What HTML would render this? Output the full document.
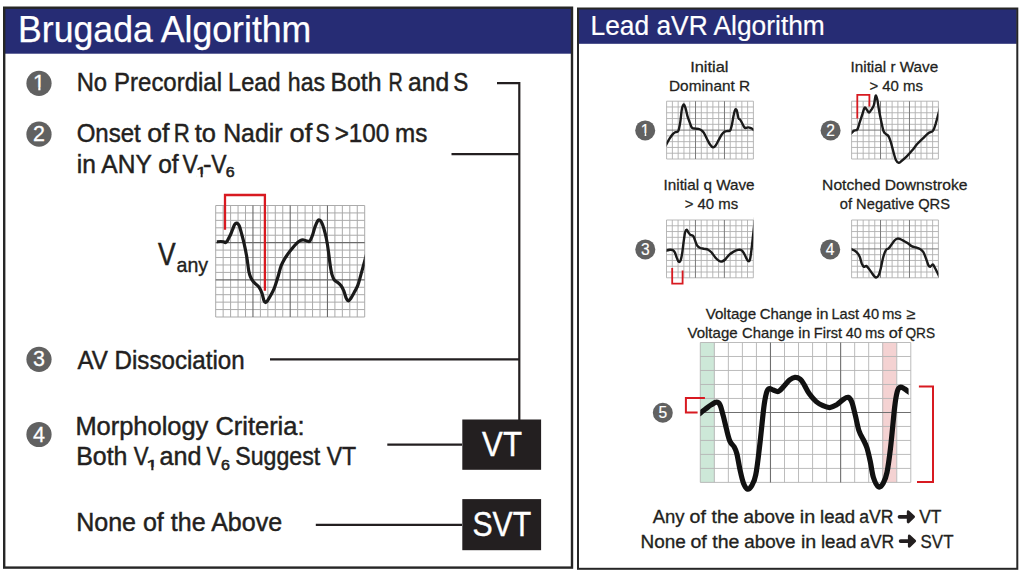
<!DOCTYPE html>
<html><head><meta charset="utf-8"><title>Brugada and Lead aVR Algorithms</title>
<style>
html,body{margin:0;padding:0;background:#fff;width:1024px;height:573px;overflow:hidden}
svg{display:block}
text{font-family:"Liberation Sans",Arial,sans-serif}
</style></head><body>
<svg width="1024" height="573" viewBox="0 0 1024 573">
<rect x="4.5" y="8" width="567" height="45.7" fill="#262c74"/>
<rect x="4.2" y="7.7" width="567.8" height="559.9" fill="none" stroke="#262626" stroke-width="2.4"/>
<rect x="578.5" y="9" width="438.3" height="34.8" fill="#262c74"/>
<rect x="578" y="8.5" width="439.3" height="560.3" fill="none" stroke="#262626" stroke-width="2"/>
<text x="18.1" y="42.0" font-size="36.2" fill="#fff" textLength="293.2" lengthAdjust="spacingAndGlyphs" stroke="#fff" stroke-width="0.25">Brugada Algorithm</text>
<text x="590.5" y="35.2" font-size="26.9" fill="#fff" textLength="234.3" lengthAdjust="spacingAndGlyphs" stroke="#fff" stroke-width="0.20">Lead aVR Algorithm</text>
<circle cx="39.0" cy="83.3" r="12.6" fill="#616161"/><text x="39.0" y="90.4" font-size="21.5" fill="#fff" stroke="#fff" stroke-width="0.26" text-anchor="middle">1</text><rect x="33.66" y="87.49" width="4.62" height="4.71" fill="#616161"/><rect x="40.48" y="87.49" width="4.65" height="4.71" fill="#616161"/>
<text x="76.7" y="91.0" font-size="25.4" fill="#231f20" textLength="30.4" lengthAdjust="spacingAndGlyphs" stroke="#231f20" stroke-width="0.46">No</text>
<text x="114.1" y="91.0" font-size="25.4" fill="#231f20" textLength="107.9" lengthAdjust="spacingAndGlyphs" stroke="#231f20" stroke-width="0.46">Precordial</text>
<text x="228.1" y="91.0" font-size="25.4" fill="#231f20" textLength="52.5" lengthAdjust="spacingAndGlyphs" stroke="#231f20" stroke-width="0.46">Lead</text>
<text x="287.8" y="91.0" font-size="25.4" fill="#231f20" textLength="37.2" lengthAdjust="spacingAndGlyphs" stroke="#231f20" stroke-width="0.46">has</text>
<text x="330.5" y="91.0" font-size="25.4" fill="#231f20" textLength="51.0" lengthAdjust="spacingAndGlyphs" stroke="#231f20" stroke-width="0.46">Both</text>
<text x="388.4" y="91.0" font-size="25.4" fill="#231f20" textLength="14.2" lengthAdjust="spacingAndGlyphs" stroke="#231f20" stroke-width="0.46">R</text>
<text x="408.0" y="91.0" font-size="25.4" fill="#231f20" textLength="41.1" lengthAdjust="spacingAndGlyphs" stroke="#231f20" stroke-width="0.46">and</text>
<text x="453.2" y="91.0" font-size="25.4" fill="#231f20" textLength="15.0" lengthAdjust="spacingAndGlyphs" stroke="#231f20" stroke-width="0.46">S</text>
<circle cx="39.0" cy="134.2" r="12.6" fill="#616161"/><text x="39.0" y="141.3" font-size="21.5" fill="#fff" stroke="#fff" stroke-width="0.26" text-anchor="middle">2</text>
<text x="76.7" y="141.7" font-size="25.4" fill="#231f20" textLength="64.1" lengthAdjust="spacingAndGlyphs" stroke="#231f20" stroke-width="0.46">Onset</text>
<text x="147.3" y="141.7" font-size="25.4" fill="#231f20" textLength="22.2" lengthAdjust="spacingAndGlyphs" stroke="#231f20" stroke-width="0.46">of</text>
<text x="173.8" y="141.7" font-size="25.4" fill="#231f20" textLength="16.0" lengthAdjust="spacingAndGlyphs" stroke="#231f20" stroke-width="0.46">R</text>
<text x="194.8" y="141.7" font-size="25.4" fill="#231f20" textLength="21.2" lengthAdjust="spacingAndGlyphs" stroke="#231f20" stroke-width="0.46">to</text>
<text x="223.2" y="141.7" font-size="25.4" fill="#231f20" textLength="59.3" lengthAdjust="spacingAndGlyphs" stroke="#231f20" stroke-width="0.46">Nadir</text>
<text x="289.5" y="141.7" font-size="25.4" fill="#231f20" textLength="22.7" lengthAdjust="spacingAndGlyphs" stroke="#231f20" stroke-width="0.46">of</text>
<text x="315.4" y="141.7" font-size="25.4" fill="#231f20" textLength="14.1" lengthAdjust="spacingAndGlyphs" stroke="#231f20" stroke-width="0.46">S</text>
<text x="334.7" y="141.7" font-size="25.4" fill="#231f20" textLength="54.7" lengthAdjust="spacingAndGlyphs" stroke="#231f20" stroke-width="0.46">&gt;100</text>
<text x="395.1" y="141.7" font-size="25.4" fill="#231f20" textLength="32.3" lengthAdjust="spacingAndGlyphs" stroke="#231f20" stroke-width="0.46">ms</text>
<text x="76.8" y="172.8" font-size="25.4" fill="#231f20" textLength="101.8" lengthAdjust="spacingAndGlyphs" stroke="#231f20" stroke-width="0.46">in ANY of</text>
<text x="182.4" y="172.8" font-size="25.4" fill="#231f20" textLength="15.3" lengthAdjust="spacingAndGlyphs" stroke="#231f20" stroke-width="0.46">V</text>
<text x="195.9" y="176.6" font-size="15.0" fill="#231f20" textLength="10.7" lengthAdjust="spacingAndGlyphs" stroke="#231f20" stroke-width="0.55">1</text><rect x="196.41" y="174.18" width="4.23" height="4.22" fill="#fff"/><rect x="202.65" y="174.18" width="4.28" height="4.22" fill="#fff"/>
<text x="202.9" y="172.8" font-size="25.4" fill="#231f20" textLength="8.6" lengthAdjust="spacingAndGlyphs" stroke="#231f20" stroke-width="0.46">-</text>
<text x="211.2" y="172.8" font-size="25.4" fill="#231f20" textLength="15.3" lengthAdjust="spacingAndGlyphs" stroke="#231f20" stroke-width="0.46">V</text>
<text x="225.8" y="176.8" font-size="15.0" fill="#231f20" textLength="8.9" lengthAdjust="spacingAndGlyphs" stroke="#231f20" stroke-width="0.55">6</text>
<circle cx="39.0" cy="359.3" r="12.6" fill="#616161"/><text x="39.0" y="366.4" font-size="21.5" fill="#fff" stroke="#fff" stroke-width="0.26" text-anchor="middle">3</text>
<text x="77.5" y="369.3" font-size="25.4" fill="#231f20" textLength="167.1" lengthAdjust="spacingAndGlyphs" stroke="#231f20" stroke-width="0.46">AV Dissociation</text>
<circle cx="39.0" cy="434.5" r="12.6" fill="#616161"/><text x="39.0" y="441.6" font-size="21.5" fill="#fff" stroke="#fff" stroke-width="0.26" text-anchor="middle">4</text>
<text x="75.4" y="434.6" font-size="25.4" fill="#231f20" textLength="229.1" lengthAdjust="spacingAndGlyphs" stroke="#231f20" stroke-width="0.46">Morphology Criteria:</text>
<text x="76.2" y="465.4" font-size="25.4" fill="#231f20" textLength="51.2" lengthAdjust="spacingAndGlyphs" stroke="#231f20" stroke-width="0.46">Both</text>
<text x="133.7" y="465.4" font-size="25.4" fill="#231f20" textLength="14.8" lengthAdjust="spacingAndGlyphs" stroke="#231f20" stroke-width="0.46">V</text>
<text x="146.2" y="469.6" font-size="15.0" fill="#231f20" textLength="11.6" lengthAdjust="spacingAndGlyphs" stroke="#231f20" stroke-width="0.55">1</text><rect x="146.78" y="467.18" width="4.52" height="4.22" fill="#fff"/><rect x="153.45" y="467.18" width="4.56" height="4.22" fill="#fff"/>
<text x="159.6" y="465.4" font-size="25.4" fill="#231f20" textLength="42.0" lengthAdjust="spacingAndGlyphs" stroke="#231f20" stroke-width="0.46">and</text>
<text x="206.4" y="465.4" font-size="25.4" fill="#231f20" textLength="14.8" lengthAdjust="spacingAndGlyphs" stroke="#231f20" stroke-width="0.46">V</text>
<text x="221.1" y="469.6" font-size="15.0" fill="#231f20" textLength="8.9" lengthAdjust="spacingAndGlyphs" stroke="#231f20" stroke-width="0.55">6</text>
<text x="235.3" y="465.4" font-size="25.4" fill="#231f20" textLength="120.9" lengthAdjust="spacingAndGlyphs" stroke="#231f20" stroke-width="0.46">Suggest VT</text>
<text x="76.2" y="530.6" font-size="25.4" fill="#231f20" textLength="205.9" lengthAdjust="spacingAndGlyphs" stroke="#231f20" stroke-width="0.46">None of the Above</text>
<path d="M497 83.2H519.3V420 M451.5 154.2H519.3 M270 359.3H519.3 M387.3 444.6H462 M315.8 524.9H462" stroke="#231f20" stroke-width="2.2" fill="none"/>
<rect x="462.3" y="419.5" width="78.8" height="50.3" fill="#231f20"/>
<rect x="462.3" y="499.1" width="78.8" height="51.1" fill="#231f20"/>
<text x="482.1" y="455.6" font-size="35.5" fill="#fff" textLength="39.9" lengthAdjust="spacingAndGlyphs" stroke="#fff" stroke-width="0.40">VT</text>
<text x="472.4" y="535.8" font-size="35.5" fill="#fff" textLength="58.8" lengthAdjust="spacingAndGlyphs" stroke="#fff" stroke-width="0.40">SVT</text>
<path d="M215.70 205.50V317.00 M223.15 205.50V317.00 M230.60 205.50V317.00 M238.05 205.50V317.00 M245.50 205.50V317.00 M260.40 205.50V317.00 M267.85 205.50V317.00 M275.30 205.50V317.00 M282.75 205.50V317.00 M297.65 205.50V317.00 M305.10 205.50V317.00 M312.55 205.50V317.00 M320.00 205.50V317.00 M334.90 205.50V317.00 M342.35 205.50V317.00 M349.80 205.50V317.00 M357.25 205.50V317.00 M364.70 205.50V317.00 M215.70 205.50H364.70 M215.70 212.93H364.70 M215.70 220.37H364.70 M215.70 227.80H364.70 M215.70 235.23H364.70 M215.70 250.10H364.70 M215.70 257.53H364.70 M215.70 264.97H364.70 M215.70 272.40H364.70 M215.70 287.27H364.70 M215.70 294.70H364.70 M215.70 302.13H364.70 M215.70 309.57H364.70 M215.70 317.00H364.70" stroke="#ababab" stroke-width="1" fill="none"/>
<path d="M252.95 205.50V317.00 M290.20 205.50V317.00 M327.45 205.50V317.00 M215.70 242.67H364.70 M215.70 279.83H364.70" stroke="#6a6a6a" stroke-width="1.1" fill="none"/>
<clipPath id="tc1"><rect x="216.80" y="0" width="147.90" height="573"/></clipPath><path d="M214.3,242.0 C214.7,242.0 215.7,241.9 216.8,241.8 C217.9,241.7 219.8,241.5 220.9,241.5 C222.0,241.5 222.8,241.5 223.5,241.7 C224.2,241.9 224.8,242.7 225.4,242.6 C226.0,242.5 226.6,241.8 227.2,241.0 C227.8,240.2 228.2,239.1 228.8,238.0 C229.4,236.9 230.0,235.9 230.6,234.5 C231.2,233.1 231.9,231.2 232.6,229.5 C233.3,227.8 233.9,225.7 234.6,224.6 C235.3,223.5 236.0,222.9 236.8,223.1 C237.6,223.3 238.4,223.8 239.2,225.7 C240.0,227.6 240.9,231.3 241.8,234.5 C242.7,237.7 243.5,240.8 244.4,244.9 C245.3,249.0 246.4,254.5 247.1,258.9 C247.8,263.3 248.2,268.1 248.8,271.1 C249.4,274.2 249.9,275.4 250.6,277.2 C251.3,278.9 252.2,280.3 253.2,281.6 C254.2,282.9 255.7,283.8 256.7,284.8 C257.7,285.8 258.4,286.3 259.3,287.7 C260.2,289.1 261.1,290.8 261.9,293.0 C262.7,295.2 263.4,299.2 264.0,300.8 C264.6,302.4 264.8,302.6 265.4,302.6 C266.0,302.6 266.6,302.0 267.5,300.8 C268.4,299.6 269.5,297.6 270.6,295.6 C271.7,293.6 272.9,291.5 274.1,288.6 C275.3,285.7 276.4,281.9 277.6,278.1 C278.8,274.3 279.9,269.1 281.1,265.9 C282.3,262.7 283.4,260.9 284.6,258.9 C285.8,256.9 287.0,255.3 288.1,253.7 C289.2,252.1 290.2,250.9 291.5,249.3 C292.8,247.7 294.4,245.6 295.9,244.1 C297.3,242.6 298.9,241.3 300.2,240.6 C301.5,239.9 302.5,239.9 303.7,240.0 C304.9,240.1 306.2,240.9 307.2,241.1 C308.2,241.3 308.9,242.1 309.8,241.1 C310.7,240.1 311.6,237.7 312.5,235.3 C313.4,232.9 314.2,229.0 315.1,226.6 C316.0,224.2 317.0,221.9 317.7,220.8 C318.4,219.7 318.8,219.9 319.4,220.1 C320.0,220.3 320.8,220.8 321.5,222.2 C322.2,223.6 323.0,225.5 323.8,228.3 C324.6,231.1 325.6,234.9 326.4,238.8 C327.2,242.7 327.9,247.4 328.5,251.9 C329.1,256.4 329.7,262.1 330.3,265.9 C330.9,269.7 331.3,272.3 332.0,274.6 C332.7,276.9 333.3,278.6 334.3,279.9 C335.3,281.2 336.6,281.5 337.8,282.5 C339.0,283.5 340.3,284.6 341.3,286.0 C342.3,287.4 343.1,289.2 343.9,291.2 C344.7,293.2 345.5,296.6 346.2,298.2 C346.9,299.8 347.5,300.8 348.3,300.8 C349.1,300.8 349.9,299.6 350.9,298.2 C351.9,296.8 353.2,294.3 354.4,292.1 C355.6,289.9 356.7,288.3 357.9,285.1 C359.1,281.9 360.3,276.7 361.4,272.9 C362.5,269.1 363.3,265.9 364.3,262.4 C365.3,258.9 366.7,253.7 367.2,251.9" stroke="#1a1a1a" stroke-width="3.2" fill="none" stroke-linejoin="round" stroke-linecap="round" clip-path="url(#tc1)"/>
<path d="M225 229.8V195H264.9V290.7" stroke="#d81a21" stroke-width="2.3" fill="none"/>
<text x="157.9" y="264.7" font-size="30.5" fill="#231f20" textLength="17.6" lengthAdjust="spacingAndGlyphs" stroke="#231f20" stroke-width="0.55">V</text>
<text x="176.5" y="272.3" font-size="21.0" fill="#231f20" textLength="31.6" lengthAdjust="spacingAndGlyphs" stroke="#231f20" stroke-width="0.38">any</text>
<path d="M666.60 101.20V159.00 M672.39 101.20V159.00 M678.17 101.20V159.00 M683.96 101.20V159.00 M689.75 101.20V159.00 M701.32 101.20V159.00 M707.11 101.20V159.00 M712.89 101.20V159.00 M718.68 101.20V159.00 M730.25 101.20V159.00 M736.04 101.20V159.00 M741.83 101.20V159.00 M747.61 101.20V159.00 M753.40 101.20V159.00 M666.60 101.20H753.40 M666.60 106.98H753.40 M666.60 112.76H753.40 M666.60 118.54H753.40 M666.60 124.32H753.40 M666.60 135.88H753.40 M666.60 141.66H753.40 M666.60 147.44H753.40 M666.60 153.22H753.40 M666.60 159.00H753.40" stroke="#b0b0b0" stroke-width="0.9" fill="none"/>
<path d="M695.53 101.20V159.00 M724.47 101.20V159.00 M666.60 130.10H753.40" stroke="#7a7a7a" stroke-width="1" fill="none"/><clipPath id="tc2"><rect x="666.60" y="0" width="86.80" height="573"/></clipPath><path d="M664.1,148.2 C664.6,147.3 666.4,144.2 667.3,142.6 C668.2,141.0 668.8,139.8 669.7,138.4 C670.6,137.0 671.9,135.1 672.8,134.1 C673.7,133.1 674.3,132.7 675.2,132.2 C676.1,131.7 677.5,132.5 678.3,131.0 C679.1,129.5 679.5,126.4 680.1,123.1 C680.7,119.8 681.2,113.7 681.6,110.9 C682.0,108.2 682.1,107.7 682.5,106.6 C682.9,105.5 683.5,104.2 684.0,104.5 C684.5,104.8 685.0,106.5 685.6,108.4 C686.2,110.3 686.8,113.7 687.4,115.8 C688.0,117.9 688.7,119.7 689.3,121.3 C689.9,122.9 690.3,124.4 690.8,125.5 C691.3,126.6 691.5,127.5 692.3,128.0 C693.1,128.5 694.4,128.4 695.4,128.6 C696.4,128.8 697.4,128.6 698.4,128.9 C699.4,129.2 700.6,129.7 701.5,130.4 C702.4,131.1 703.0,131.5 703.9,132.9 C704.8,134.3 706.0,137.1 707.0,139.0 C708.0,140.9 709.0,143.1 710.0,144.5 C711.0,145.9 712.2,147.1 713.1,147.3 C714.0,147.5 714.6,146.9 715.5,145.7 C716.4,144.5 717.6,142.0 718.6,140.2 C719.6,138.4 720.6,136.1 721.6,134.7 C722.6,133.3 723.7,132.2 724.7,131.6 C725.7,131.0 726.8,131.2 727.7,131.0 C728.6,130.8 729.5,131.5 730.2,130.4 C730.9,129.3 731.4,127.0 732.0,124.3 C732.6,121.6 733.2,117.0 733.8,114.5 C734.3,112.0 734.8,110.0 735.3,109.4 C735.8,108.8 736.4,109.4 736.9,110.9 C737.4,112.4 738.0,116.8 738.5,118.2 C739.0,119.6 739.4,118.7 739.9,119.4 C740.4,120.1 741.2,121.4 741.8,122.5 C742.4,123.6 743.0,125.2 743.6,126.1 C744.2,127.0 744.6,127.8 745.4,128.0 C746.2,128.2 747.6,127.4 748.5,127.4 C749.4,127.4 750.1,127.9 750.9,128.2 C751.7,128.5 752.3,128.9 753.1,129.4 C753.9,129.9 755.4,130.7 755.9,130.9" stroke="#1a1a1a" stroke-width="2.4" fill="none" stroke-linejoin="round" stroke-linecap="round" clip-path="url(#tc2)"/>
<path d="M851.60 101.20V159.00 M857.39 101.20V159.00 M863.17 101.20V159.00 M868.96 101.20V159.00 M874.75 101.20V159.00 M886.32 101.20V159.00 M892.11 101.20V159.00 M897.89 101.20V159.00 M903.68 101.20V159.00 M915.25 101.20V159.00 M921.04 101.20V159.00 M926.83 101.20V159.00 M932.61 101.20V159.00 M938.40 101.20V159.00 M851.60 101.20H938.40 M851.60 106.98H938.40 M851.60 112.76H938.40 M851.60 118.54H938.40 M851.60 124.32H938.40 M851.60 135.88H938.40 M851.60 141.66H938.40 M851.60 147.44H938.40 M851.60 153.22H938.40 M851.60 159.00H938.40" stroke="#b0b0b0" stroke-width="0.9" fill="none"/>
<path d="M880.53 101.20V159.00 M909.47 101.20V159.00 M851.60 130.10H938.40" stroke="#7a7a7a" stroke-width="1" fill="none"/><clipPath id="tc3"><rect x="851.60" y="0" width="86.80" height="573"/></clipPath><path d="M849.1,135.3 C849.6,134.8 851.6,133.0 852.4,132.2 C853.2,131.4 853.3,131.0 854.1,130.6 C854.9,130.2 856.4,130.8 857.3,129.5 C858.2,128.2 858.8,125.2 859.6,122.7 C860.4,120.2 861.5,117.0 862.3,114.5 C863.1,112.0 863.9,108.5 864.6,107.7 C865.4,106.9 866.0,108.9 866.8,109.7 C867.5,110.5 868.3,112.6 869.1,112.5 C869.9,112.4 871.0,110.3 871.8,109.1 C872.6,107.8 873.4,106.7 873.9,105.0 C874.4,103.3 874.7,100.4 875.0,98.8 C875.3,97.2 875.5,95.3 875.9,95.4 C876.3,95.5 876.7,96.8 877.3,99.5 C877.9,102.2 878.5,107.7 879.3,111.8 C880.0,115.9 881.1,120.7 881.8,124.0 C882.5,127.3 883.0,129.8 883.7,131.5 C884.4,133.2 885.3,133.4 886.1,134.2 C886.9,135.0 887.8,134.9 888.6,136.3 C889.4,137.7 890.1,139.7 890.9,142.4 C891.7,145.1 892.8,149.7 893.6,152.6 C894.4,155.5 895.1,158.4 895.9,160.1 C896.7,161.8 897.6,162.7 898.6,162.8 C899.6,162.9 900.5,161.8 901.8,160.8 C903.1,159.8 904.8,158.4 906.5,156.7 C908.2,155.0 910.2,152.8 912.0,150.6 C913.8,148.4 915.6,145.9 917.4,143.8 C919.2,141.8 921.1,140.1 922.9,138.3 C924.7,136.6 926.6,134.6 928.3,133.3 C930.0,132.0 931.9,132.3 933.1,130.6 C934.4,128.9 934.9,126.0 935.8,123.3 C936.6,120.6 937.4,117.6 938.2,114.5 C939.1,111.4 940.5,106.3 940.9,104.6" stroke="#1a1a1a" stroke-width="2.4" fill="none" stroke-linejoin="round" stroke-linecap="round" clip-path="url(#tc3)"/>
<path d="M666.50 220.00V277.80 M672.29 220.00V277.80 M678.07 220.00V277.80 M683.86 220.00V277.80 M689.65 220.00V277.80 M701.22 220.00V277.80 M707.01 220.00V277.80 M712.79 220.00V277.80 M718.58 220.00V277.80 M730.15 220.00V277.80 M735.94 220.00V277.80 M741.73 220.00V277.80 M747.51 220.00V277.80 M753.30 220.00V277.80 M666.50 220.00H753.30 M666.50 225.78H753.30 M666.50 231.56H753.30 M666.50 237.34H753.30 M666.50 243.12H753.30 M666.50 254.68H753.30 M666.50 260.46H753.30 M666.50 266.24H753.30 M666.50 272.02H753.30 M666.50 277.80H753.30" stroke="#b0b0b0" stroke-width="0.9" fill="none"/>
<path d="M695.43 220.00V277.80 M724.37 220.00V277.80 M666.50 248.90H753.30" stroke="#7a7a7a" stroke-width="1" fill="none"/><clipPath id="tc4"><rect x="666.50" y="0" width="86.80" height="573"/></clipPath><path d="M664.0,251.1 C664.6,251.0 666.6,250.5 667.6,250.3 C668.6,250.1 669.3,249.7 670.2,249.7 C671.1,249.7 672.0,249.7 672.8,250.1 C673.6,250.5 674.1,251.1 674.8,252.3 C675.4,253.5 676.1,255.9 676.7,257.5 C677.4,259.1 678.0,261.4 678.7,261.8 C679.4,262.2 680.1,261.8 680.7,260.1 C681.3,258.4 681.9,255.0 682.4,251.6 C682.9,248.2 683.4,243.2 683.9,239.9 C684.4,236.6 684.7,233.7 685.2,232.0 C685.7,230.3 686.2,229.6 686.8,229.7 C687.3,229.8 687.9,231.8 688.5,232.7 C689.1,233.6 689.7,234.4 690.5,234.9 C691.3,235.4 692.3,235.0 693.1,235.9 C693.9,236.8 694.4,238.8 695.1,240.5 C695.8,242.2 696.4,244.6 697.3,245.8 C698.2,247.1 699.1,247.5 700.3,248.0 C701.4,248.5 702.9,248.5 704.2,248.8 C705.5,249.1 706.9,249.1 708.1,249.7 C709.3,250.3 710.2,251.0 711.4,252.3 C712.6,253.6 714.0,256.0 715.3,257.5 C716.6,259.0 718.2,260.4 719.3,261.1 C720.4,261.8 720.9,261.8 721.9,261.5 C722.9,261.2 724.0,260.6 725.2,259.5 C726.4,258.4 727.7,256.2 729.1,254.9 C730.5,253.6 732.2,252.4 733.7,251.6 C735.2,250.8 736.9,250.1 738.2,249.9 C739.5,249.7 740.5,249.7 741.5,250.3 C742.5,250.9 743.2,252.2 744.1,253.6 C745.0,255.0 746.0,257.6 746.7,258.8 C747.4,260.1 747.8,261.0 748.3,261.1 C748.8,261.2 749.4,261.7 750.0,259.5 C750.6,257.3 751.2,252.1 751.7,247.7 C752.2,243.3 752.6,239.5 753.3,233.3 C754.0,227.1 755.4,214.5 755.8,210.8" stroke="#1a1a1a" stroke-width="2.4" fill="none" stroke-linejoin="round" stroke-linecap="round" clip-path="url(#tc4)"/>
<path d="M851.60 220.00V277.80 M857.39 220.00V277.80 M863.17 220.00V277.80 M868.96 220.00V277.80 M874.75 220.00V277.80 M886.32 220.00V277.80 M892.11 220.00V277.80 M897.89 220.00V277.80 M903.68 220.00V277.80 M915.25 220.00V277.80 M921.04 220.00V277.80 M926.83 220.00V277.80 M932.61 220.00V277.80 M938.40 220.00V277.80 M851.60 220.00H938.40 M851.60 225.78H938.40 M851.60 231.56H938.40 M851.60 237.34H938.40 M851.60 243.12H938.40 M851.60 254.68H938.40 M851.60 260.46H938.40 M851.60 266.24H938.40 M851.60 272.02H938.40 M851.60 277.80H938.40" stroke="#b0b0b0" stroke-width="0.9" fill="none"/>
<path d="M880.53 220.00V277.80 M909.47 220.00V277.80 M851.60 248.90H938.40" stroke="#7a7a7a" stroke-width="1" fill="none"/><clipPath id="tc5"><rect x="851.60" y="0" width="86.80" height="573"/></clipPath><path d="M849.1,247.9 C849.7,248.2 851.6,249.2 852.6,249.7 C853.6,250.2 854.3,250.3 855.2,251.0 C856.1,251.7 857.0,252.6 857.8,253.6 C858.6,254.6 859.1,255.3 859.8,256.9 C860.4,258.5 861.1,261.8 861.7,263.4 C862.4,265.0 862.9,266.3 863.7,266.7 C864.5,267.1 865.4,265.7 866.3,266.0 C867.2,266.3 868.0,267.6 868.9,268.7 C869.8,269.8 870.7,271.4 871.6,272.6 C872.5,273.9 873.5,275.4 874.2,276.2 C875.0,277.0 875.4,277.6 876.1,277.5 C876.8,277.4 877.6,277.3 878.4,275.8 C879.2,274.3 879.9,271.9 880.7,268.7 C881.5,265.5 882.4,260.0 883.3,256.9 C884.2,253.8 885.0,251.5 885.9,250.1 C886.8,248.7 887.7,249.2 888.6,248.4 C889.5,247.6 890.2,246.4 891.2,245.1 C892.2,243.8 893.5,241.6 894.5,240.5 C895.5,239.4 896.5,238.8 897.5,238.6 C898.5,238.4 899.2,238.8 900.3,239.2 C901.4,239.6 903.0,240.5 904.3,241.2 C905.6,241.9 906.9,242.6 908.2,243.5 C909.5,244.4 910.8,245.7 912.1,246.4 C913.4,247.1 914.7,247.1 916.0,247.5 C917.3,247.9 918.8,248.3 920.0,249.0 C921.2,249.7 922.2,250.4 923.2,251.9 C924.2,253.4 925.0,255.9 925.9,258.2 C926.8,260.4 927.8,264.0 928.5,265.4 C929.2,266.8 929.7,266.8 930.4,266.7 C931.1,266.6 932.0,264.3 932.8,264.5 C933.6,264.7 934.1,266.4 935.0,268.0 C935.9,269.6 937.0,272.0 938.0,273.9 C939.0,275.8 940.4,278.7 940.9,279.6" stroke="#1a1a1a" stroke-width="2.4" fill="none" stroke-linejoin="round" stroke-linecap="round" clip-path="url(#tc5)"/>
<path d="M857.3 118.6V94.8H869.4V106.6" stroke="#d81a21" stroke-width="1.8" fill="none"/>
<path d="M672.2 268V283.7H682.6V270.6" stroke="#d81a21" stroke-width="1.8" fill="none"/>
<circle cx="645.2" cy="130.4" r="10.0" fill="#616161"/><text x="645.2" y="135.5" font-size="15.6" fill="#fff" stroke="#fff" stroke-width="0.19" text-anchor="middle">1</text><rect x="641.05" y="133.08" width="3.58" height="4.27" fill="#616161"/><rect x="646.31" y="133.08" width="3.66" height="4.27" fill="#616161"/>
<circle cx="830.6" cy="130.4" r="10.0" fill="#616161"/><text x="830.6" y="135.5" font-size="15.6" fill="#fff" stroke="#fff" stroke-width="0.19" text-anchor="middle">2</text>
<circle cx="645.3" cy="249.4" r="10.0" fill="#616161"/><text x="645.3" y="254.5" font-size="15.6" fill="#fff" stroke="#fff" stroke-width="0.19" text-anchor="middle">3</text>
<circle cx="830.2" cy="249.4" r="10.0" fill="#616161"/><text x="830.2" y="254.5" font-size="15.6" fill="#fff" stroke="#fff" stroke-width="0.19" text-anchor="middle">4</text>
<circle cx="662.8" cy="412.8" r="10.0" fill="#616161"/><text x="662.8" y="417.9" font-size="15.6" fill="#fff" stroke="#fff" stroke-width="0.19" text-anchor="middle">5</text>
<text x="690.2" y="71.6" font-size="15.0" fill="#231f20" textLength="38.3" lengthAdjust="spacingAndGlyphs" stroke="#231f20" stroke-width="0.27">Initial</text>
<text x="669.0" y="90.9" font-size="15.0" fill="#231f20" textLength="81.1" lengthAdjust="spacingAndGlyphs" stroke="#231f20" stroke-width="0.27">Dominant R</text>
<text x="850.5" y="71.6" font-size="15.0" fill="#231f20" textLength="87.7" lengthAdjust="spacingAndGlyphs" stroke="#231f20" stroke-width="0.27">Initial r Wave</text>
<text x="869.4" y="90.8" font-size="15.0" fill="#231f20" textLength="53.6" lengthAdjust="spacingAndGlyphs" stroke="#231f20" stroke-width="0.27">&gt; 40 ms</text>
<text x="663.5" y="190.0" font-size="15.0" fill="#231f20" textLength="91.1" lengthAdjust="spacingAndGlyphs" stroke="#231f20" stroke-width="0.27">Initial q Wave</text>
<text x="684.7" y="209.3" font-size="15.0" fill="#231f20" textLength="53.5" lengthAdjust="spacingAndGlyphs" stroke="#231f20" stroke-width="0.27">&gt; 40 ms</text>
<text x="822.1" y="190.0" font-size="15.0" fill="#231f20" textLength="145.4" lengthAdjust="spacingAndGlyphs" stroke="#231f20" stroke-width="0.27">Notched Downstroke</text>
<text x="839.8" y="209.3" font-size="15.0" fill="#231f20" textLength="110.2" lengthAdjust="spacingAndGlyphs" stroke="#231f20" stroke-width="0.27">of Negative QRS</text>
<text x="705.7" y="319.3" font-size="15.0" fill="#231f20" textLength="50.5" lengthAdjust="spacingAndGlyphs" stroke="#231f20" stroke-width="0.27">Voltage</text>
<text x="759.7" y="319.3" font-size="15.0" fill="#231f20" textLength="52.3" lengthAdjust="spacingAndGlyphs" stroke="#231f20" stroke-width="0.27">Change</text>
<text x="816.2" y="319.3" font-size="15.0" fill="#231f20" textLength="12.2" lengthAdjust="spacingAndGlyphs" stroke="#231f20" stroke-width="0.27">in</text>
<text x="831.4" y="319.3" font-size="15.0" fill="#231f20" textLength="27.6" lengthAdjust="spacingAndGlyphs" stroke="#231f20" stroke-width="0.27">Last</text>
<text x="862.8" y="319.3" font-size="15.0" fill="#231f20" textLength="16.3" lengthAdjust="spacingAndGlyphs" stroke="#231f20" stroke-width="0.27">40</text>
<text x="882.0" y="319.3" font-size="15.0" fill="#231f20" textLength="19.8" lengthAdjust="spacingAndGlyphs" stroke="#231f20" stroke-width="0.27">ms</text>
<text x="906.3" y="319.3" font-size="15.0" fill="#231f20" textLength="9.0" lengthAdjust="spacingAndGlyphs" stroke="#231f20" stroke-width="0.27">≥</text>
<text x="687.5" y="337.7" font-size="15.0" fill="#231f20" textLength="50.1" lengthAdjust="spacingAndGlyphs" stroke="#231f20" stroke-width="0.27">Voltage</text>
<text x="742.1" y="337.7" font-size="15.0" fill="#231f20" textLength="51.9" lengthAdjust="spacingAndGlyphs" stroke="#231f20" stroke-width="0.27">Change</text>
<text x="798.2" y="337.7" font-size="15.0" fill="#231f20" textLength="12.1" lengthAdjust="spacingAndGlyphs" stroke="#231f20" stroke-width="0.27">in</text>
<text x="813.8" y="337.7" font-size="15.0" fill="#231f20" textLength="28.3" lengthAdjust="spacingAndGlyphs" stroke="#231f20" stroke-width="0.27">First</text>
<text x="845.8" y="337.7" font-size="15.0" fill="#231f20" textLength="16.1" lengthAdjust="spacingAndGlyphs" stroke="#231f20" stroke-width="0.27">40</text>
<text x="865.0" y="337.7" font-size="15.0" fill="#231f20" textLength="19.7" lengthAdjust="spacingAndGlyphs" stroke="#231f20" stroke-width="0.27">ms</text>
<text x="888.7" y="337.7" font-size="15.0" fill="#231f20" textLength="13.6" lengthAdjust="spacingAndGlyphs" stroke="#231f20" stroke-width="0.27">of</text>
<text x="905.5" y="337.7" font-size="15.0" fill="#231f20" textLength="29.6" lengthAdjust="spacingAndGlyphs" stroke="#231f20" stroke-width="0.27">QRS</text>
<rect x="700.3" y="342.5" width="14.2" height="139.9" fill="#cde8d8"/>
<rect x="882.4" y="342.5" width="14.1" height="139.9" fill="#f4d2d2"/>
<path d="M700.30 342.50V482.40 M714.33 342.50V482.40 M728.37 342.50V482.40 M742.40 342.50V482.40 M756.43 342.50V482.40 M784.50 342.50V482.40 M798.53 342.50V482.40 M812.57 342.50V482.40 M826.60 342.50V482.40 M854.67 342.50V482.40 M868.70 342.50V482.40 M882.73 342.50V482.40 M896.77 342.50V482.40 M910.80 342.50V482.40 M700.30 342.50H910.80 M700.30 356.49H910.80 M700.30 370.48H910.80 M700.30 384.47H910.80 M700.30 398.46H910.80 M700.30 426.44H910.80 M700.30 440.43H910.80 M700.30 454.42H910.80 M700.30 468.41H910.80 M700.30 482.40H910.80" stroke="#b4b4b4" stroke-width="0.9" fill="none"/>
<path d="M770.47 342.50V482.40 M840.63 342.50V482.40 M700.30 412.45H910.80" stroke="#6f6f6f" stroke-width="1.1" fill="none"/>
<clipPath id="tc6"><rect x="700.30" y="0" width="208.30" height="573"/></clipPath><path d="M697.8,414.9 C698.3,414.5 699.8,413.4 701.1,412.4 C702.4,411.4 704.0,410.1 705.7,408.9 C707.4,407.6 709.3,406.0 711.1,404.9 C712.9,403.8 715.0,402.2 716.5,402.2 C718.0,402.2 718.9,402.6 720.0,404.9 C721.1,407.1 722.1,411.6 723.2,415.7 C724.3,419.8 725.4,424.9 726.5,429.2 C727.6,433.5 728.7,438.5 730.0,441.4 C731.3,444.3 733.0,444.8 734.1,446.8 C735.2,448.8 735.8,449.7 736.8,453.5 C737.8,457.3 738.9,464.8 740.0,469.7 C741.1,474.6 742.2,479.9 743.5,483.2 C744.8,486.4 746.2,488.8 747.6,489.2 C749.0,489.6 750.2,488.2 751.6,485.9 C753.0,483.5 754.4,481.9 755.7,475.1 C757.1,468.4 758.4,456.6 759.7,445.4 C761.1,434.1 762.7,416.4 763.8,407.6 C764.9,398.8 765.6,395.9 766.5,392.7 C767.4,389.5 768.1,389.1 769.2,388.6 C770.3,388.2 771.6,389.5 773.2,390.0 C774.8,390.5 776.8,392.1 778.6,391.4 C780.4,390.7 782.3,387.9 784.1,386.0 C785.9,384.1 787.7,381.4 789.5,380.0 C791.3,378.6 793.1,377.4 794.9,377.3 C796.7,377.2 798.8,378.0 800.3,379.2 C801.8,380.4 802.6,382.1 804.1,384.6 C805.6,387.1 807.5,391.3 809.5,394.1 C811.5,396.9 814.0,399.7 816.2,401.6 C818.5,403.5 820.8,404.7 823.0,405.7 C825.2,406.7 827.5,407.7 829.7,407.6 C832.0,407.5 834.2,406.2 836.5,404.9 C838.8,403.5 841.3,400.8 843.2,399.5 C845.1,398.2 846.7,396.9 848.1,397.3 C849.5,397.8 850.7,399.1 851.9,402.2 C853.1,405.3 854.2,411.0 855.4,415.7 C856.6,420.4 857.5,426.4 858.9,430.5 C860.2,434.6 862.1,437.1 863.5,440.0 C864.9,442.9 865.9,444.5 867.0,448.1 C868.1,451.7 869.2,456.7 870.3,461.6 C871.4,466.6 872.1,473.6 873.5,477.8 C874.9,482.0 876.8,485.9 878.4,486.8 C880.0,487.7 881.8,485.6 883.2,483.2 C884.6,480.8 885.8,478.2 887.0,472.4 C888.2,466.5 889.2,458.9 890.5,448.1 C891.8,437.3 893.5,417.1 894.6,407.6 C895.7,398.2 896.4,394.8 897.3,391.4 C898.2,388.0 898.9,387.8 900.0,387.3 C901.1,386.8 902.8,387.9 904.1,388.6 C905.5,389.3 906.9,390.6 908.1,391.4 C909.3,392.2 910.6,393.1 911.1,393.5" stroke="#111" stroke-width="5.2" fill="none" stroke-linejoin="round" stroke-linecap="round" clip-path="url(#tc6)"/>
<path d="M704.9 398.1H685.9V412.4H697.6" stroke="#d81a21" stroke-width="2" fill="none"/>
<path d="M918.9 386.5H933V482H917" stroke="#d81a21" stroke-width="2" fill="none"/>
<text x="652.7" y="523.3" font-size="18.0" fill="#231f20" textLength="31.9" lengthAdjust="spacingAndGlyphs" stroke="#231f20" stroke-width="0.32">Any</text>
<text x="689.6" y="523.3" font-size="18.0" fill="#231f20" textLength="16.3" lengthAdjust="spacingAndGlyphs" stroke="#231f20" stroke-width="0.32">of</text>
<text x="711.5" y="523.3" font-size="18.0" fill="#231f20" textLength="27.1" lengthAdjust="spacingAndGlyphs" stroke="#231f20" stroke-width="0.32">the</text>
<text x="743.5" y="523.3" font-size="18.0" fill="#231f20" textLength="51.3" lengthAdjust="spacingAndGlyphs" stroke="#231f20" stroke-width="0.32">above</text>
<text x="799.8" y="523.3" font-size="18.0" fill="#231f20" textLength="15.4" lengthAdjust="spacingAndGlyphs" stroke="#231f20" stroke-width="0.32">in</text>
<text x="820.0" y="523.3" font-size="18.0" fill="#231f20" textLength="35.2" lengthAdjust="spacingAndGlyphs" stroke="#231f20" stroke-width="0.32">lead</text>
<text x="859.2" y="523.3" font-size="18.0" fill="#231f20" textLength="34.2" lengthAdjust="spacingAndGlyphs" stroke="#231f20" stroke-width="0.32">aVR</text>
<text x="640.5" y="547.6" font-size="18.0" fill="#231f20" textLength="45.3" lengthAdjust="spacingAndGlyphs" stroke="#231f20" stroke-width="0.32">None</text>
<text x="690.4" y="547.6" font-size="18.0" fill="#231f20" textLength="16.3" lengthAdjust="spacingAndGlyphs" stroke="#231f20" stroke-width="0.32">of</text>
<text x="712.3" y="547.6" font-size="18.0" fill="#231f20" textLength="27.1" lengthAdjust="spacingAndGlyphs" stroke="#231f20" stroke-width="0.32">the</text>
<text x="744.2" y="547.6" font-size="18.0" fill="#231f20" textLength="51.3" lengthAdjust="spacingAndGlyphs" stroke="#231f20" stroke-width="0.32">above</text>
<text x="800.9" y="547.6" font-size="18.0" fill="#231f20" textLength="15.3" lengthAdjust="spacingAndGlyphs" stroke="#231f20" stroke-width="0.32">in</text>
<text x="820.9" y="547.6" font-size="18.0" fill="#231f20" textLength="35.4" lengthAdjust="spacingAndGlyphs" stroke="#231f20" stroke-width="0.32">lead</text>
<text x="860.2" y="547.6" font-size="18.0" fill="#231f20" textLength="34.0" lengthAdjust="spacingAndGlyphs" stroke="#231f20" stroke-width="0.32">aVR</text>
<text x="919.2" y="523.3" font-size="18.0" fill="#231f20" textLength="22.3" lengthAdjust="spacingAndGlyphs" stroke="#231f20" stroke-width="0.32">VT</text>
<text x="920.6" y="547.6" font-size="18.0" fill="#231f20" textLength="32.9" lengthAdjust="spacingAndGlyphs" stroke="#231f20" stroke-width="0.32">SVT</text>
<path d="M899.5 516.8H908.6" stroke="#231f20" stroke-width="3.7" stroke-linecap="round"/><path d="M908.2 511.7L913.6 516.8L908.2 521.9Z" stroke="#231f20" stroke-width="2.8" fill="#231f20" stroke-linejoin="round"/>
<path d="M900.6 541.1H909.7" stroke="#231f20" stroke-width="3.7" stroke-linecap="round"/><path d="M909.3 536.0L914.7 541.1L909.3 546.2Z" stroke="#231f20" stroke-width="2.8" fill="#231f20" stroke-linejoin="round"/>
</svg>
</body></html>
